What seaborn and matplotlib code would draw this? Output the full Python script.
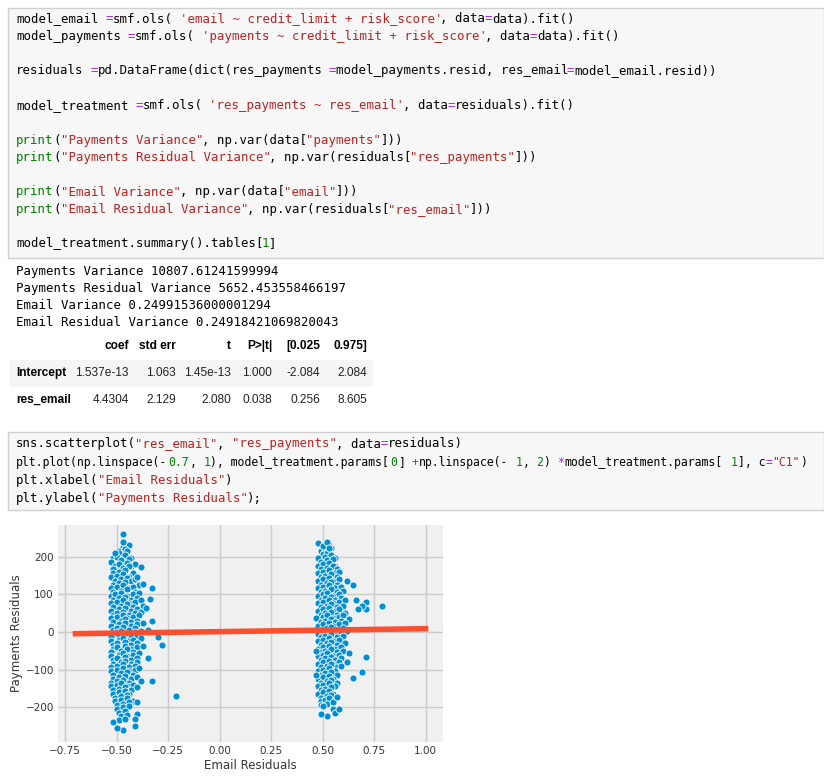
import re
import numpy as np
import pandas as pd
import matplotlib
matplotlib.use("Agg")
import matplotlib.pyplot as plt
from matplotlib.patches import Rectangle
import seaborn as sns

# ---- notebook text ----
cell1 = [
    "model_email = smf.ols('email ~ credit_limit + risk_score', data=data).fit()",
    "model_payments = smf.ols('payments ~ credit_limit + risk_score', data=data).fit()",
    "",
    "residuals = pd.DataFrame(dict(res_payments=model_payments.resid, res_email=model_email.resid))",
    "",
    "model_treatment = smf.ols('res_payments ~ res_email', data=residuals).fit()",
    "",
    "print(\"Payments Variance\", np.var(data[\"payments\"]))",
    "print(\"Payments Residual Variance\", np.var(residuals[\"res_payments\"]))",
    "",
    "print(\"Email Variance\", np.var(data[\"email\"]))",
    "print(\"Email Residual Variance\", np.var(residuals[\"res_email\"]))",
    "",
    "model_treatment.summary().tables[1]",
]
output1 = [
    "Payments Variance 10807.61241599994",
    "Payments Residual Variance 5652.453558466197",
    "Email Variance 0.24991536000001294",
    "Email Residual Variance 0.24918421069820043",
]
table_cols = ["coef", "std err", "t", "P>|t|", "[0.025", "0.975]"]
table_rows = ["Intercept", "res_email"]
table_vals = [
    ["1.537e-13", "1.063", "1.45e-13", "1.000", "-2.084", "2.084"],
    ["4.4304", "2.129", "2.080", "0.038", "0.256", "8.605"],
]
cell2 = [
    "sns.scatterplot(\"res_email\", \"res_payments\", data=residuals)",
    "plt.plot(np.linspace(-0.7, 1), model_treatment.params[0] + np.linspace(-1, 2) * model_treatment.params[1], c=\"C1\")",
    "plt.xlabel(\"Email Residuals\")",
    "plt.ylabel(\"Payments Residuals\");",
]

# ---- scatter data ----
left_row_y = [240, 230, 220, 210, 200, 190, 180, 170, 160, 150, 140, 130, 120, 110, 100, 90, 80, 70, 60, 50,
              40, 30, 20, 10, 0, -10, -20, -30, -40, -50, -60, -70, -80, -90, -100, -110, -120, -130, -140,
              -150, -160, -170, -180, -190, -200, -210, -220, -230]
left_row_x = [
    [-0.47], [-0.47, -0.44], [-0.49, -0.46], [-0.51, -0.49, -0.45], [-0.52, -0.50, -0.46, -0.43],
    [-0.53, -0.48, -0.44], [-0.51, -0.49, -0.45, -0.43, -0.41], [-0.52, -0.47, -0.44], [-0.52, -0.49, -0.46, -0.42],
    [-0.53, -0.50, -0.47, -0.44], [-0.51, -0.48, -0.45, -0.43, -0.41], [-0.52, -0.49, -0.46, -0.39],
    [-0.53, -0.50, -0.47, -0.44, -0.42], [-0.52, -0.48, -0.45, -0.41], [-0.53, -0.51, -0.48, -0.45, -0.42, -0.39],
    [-0.52, -0.49, -0.46, -0.43, -0.40], [-0.53, -0.50, -0.47, -0.44, -0.41, -0.38], [-0.52, -0.48, -0.45, -0.42, -0.37],
    [-0.53, -0.49, -0.46, -0.43, -0.40], [-0.52, -0.50, -0.47, -0.44, -0.41, -0.38],
    [-0.53, -0.50, -0.47, -0.45, -0.42, -0.39], [-0.52, -0.48, -0.46, -0.43, -0.40], [-0.53, -0.49, -0.46, -0.43, -0.40, -0.37],
    [-0.52, -0.50, -0.47, -0.44, -0.41], [-0.52, -0.50, -0.48, -0.45, -0.41, -0.38], [-0.53, -0.49, -0.46, -0.43, -0.40],
    [-0.53, -0.49, -0.47, -0.44, -0.42, -0.38], [-0.52, -0.50, -0.46, -0.43, -0.40], [-0.52, -0.50, -0.46, -0.43, -0.40, -0.37],
    [-0.53, -0.48, -0.45, -0.42], [-0.53, -0.49, -0.47, -0.45, -0.42, -0.39], [-0.52, -0.50, -0.46, -0.43, -0.40],
    [-0.52, -0.48, -0.46, -0.43, -0.40], [-0.53, -0.50, -0.47, -0.44, -0.41], [-0.53, -0.50, -0.47, -0.44, -0.41, -0.39],
    [-0.52, -0.48, -0.45, -0.42], [-0.52, -0.49, -0.46, -0.43, -0.40], [-0.53, -0.50, -0.47, -0.44], [-0.53, -0.50, -0.48, -0.45, -0.42],
    [-0.52, -0.49, -0.46, -0.43], [-0.52, -0.49, -0.46, -0.44], [-0.51, -0.48, -0.45], [-0.51, -0.48, -0.45, -0.42],
    [-0.50, -0.47, -0.44], [-0.50, -0.47, -0.44], [-0.49, -0.46], [-0.48, -0.45], [-0.49, -0.46],
]
left_out_x = [-0.21, -0.28, -0.30, -0.33, -0.33, -0.33, -0.35, -0.35, -0.34, -0.38, -0.36, -0.37, -0.40,
              -0.40, -0.41, -0.41, -0.40, -0.40, -0.38, -0.47, -0.50, -0.52, -0.47, -0.47, -0.51]
left_out_y = [-170, -35, -13, 30, 118, -130, -70, 5, 87, 173, 65, 128, 147,
              -218, -232, -250, -185, -145, -130, -260, -255, -238, 260, 240, 210]

right_row_y = [230, 220, 210, 200, 190, 180, 170, 160, 150, 140, 130, 120, 110, 100, 90, 80, 70, 60, 50,
               40, 30, 20, 10, 0, -10, -20, -30, -40, -50, -60, -70, -80, -90, -100, -110, -120, -130,
               -140, -150, -160, -170, -180, -190]
right_row_x = [
    [0.50, 0.53], [0.49, 0.51, 0.54], [0.50, 0.52], [0.48, 0.51, 0.54, 0.56], [0.49, 0.52, 0.55],
    [0.48, 0.50, 0.53, 0.56], [0.49, 0.52, 0.55, 0.57], [0.48, 0.50, 0.53, 0.56, 0.58], [0.49, 0.51, 0.54, 0.57],
    [0.48, 0.50, 0.53, 0.55, 0.58], [0.49, 0.52, 0.54, 0.57], [0.48, 0.50, 0.53, 0.56, 0.59],
    [0.49, 0.51, 0.54, 0.57, 0.60], [0.48, 0.50, 0.52, 0.55, 0.58], [0.49, 0.51, 0.54, 0.56, 0.59],
    [0.48, 0.50, 0.53, 0.55, 0.58, 0.61], [0.49, 0.52, 0.54, 0.57, 0.60], [0.48, 0.50, 0.53, 0.56, 0.58],
    [0.49, 0.51, 0.54, 0.57, 0.61], [0.47, 0.50, 0.52, 0.55, 0.58, 0.60], [0.49, 0.51, 0.54, 0.56, 0.59, 0.63],
    [0.48, 0.50, 0.53, 0.55, 0.58, 0.61], [0.49, 0.52, 0.54, 0.57, 0.60], [0.48, 0.50, 0.53, 0.56, 0.59, 0.62],
    [0.49, 0.51, 0.54, 0.57, 0.60], [0.48, 0.50, 0.53, 0.55, 0.58], [0.49, 0.52, 0.54, 0.57, 0.61],
    [0.48, 0.50, 0.53, 0.56, 0.59], [0.49, 0.51, 0.54, 0.57, 0.60], [0.48, 0.50, 0.52, 0.55, 0.58],
    [0.49, 0.51, 0.54, 0.56, 0.59], [0.48, 0.50, 0.53, 0.55, 0.58], [0.49, 0.52, 0.54, 0.57, 0.59],
    [0.48, 0.50, 0.53, 0.56], [0.49, 0.51, 0.54, 0.57], [0.48, 0.50, 0.53, 0.55], [0.49, 0.52, 0.54, 0.57],
    [0.48, 0.50, 0.53, 0.56], [0.49, 0.51, 0.54], [0.48, 0.50, 0.53, 0.55], [0.49, 0.52, 0.54], [0.49, 0.51, 0.53],
    [0.49, 0.52, 0.55],
]
right_out_x = [0.79, 0.71, 0.71, 0.71, 0.69, 0.69, 0.67, 0.66, 0.65, 0.65, 0.62, 0.62, 0.63, 0.57, 0.55,
               0.56, 0.58, 0.52, 0.49, 0.50, 0.48, 0.50, 0.52, 0.53, 0.47, 0.47]
right_out_y = [68, 81, 62, -65, -105, 70, 60, 86, -121, 125, 136, -80, -55, -173, -203,
               -215, -203, -222, -218, -195, 237, 229, 239, 223, -115, -50]

line_x_span = [-0.7, 1.0]
line_param_span = [-1, 2]
intercept, slope = 1.537e-13, 4.4304

xs, ys = [], []
for yv, row in zip(left_row_y + right_row_y, left_row_x + right_row_x):
    xs += row
    ys += [yv + 4 * ((i % 3) - 1) for i in range(len(row))]
xs += left_out_x + right_out_x
ys += left_out_y + right_out_y
residuals = pd.DataFrame({"res_email": xs, "res_payments": ys})

# ---- figure ----
W, H = 824, 777
fig = plt.figure(figsize=(W / 100, H / 100), dpi=100)
fig.patch.set_facecolor("white")


def fx(x):
    return x / W


def fy(y):
    return 1 - y / H


def box(y0, y1):
    fig.patches.append(Rectangle((fx(8), fy(y1)), fx(816), (y1 - y0) / H, transform=fig.transFigure,
                                 facecolor="#f7f7f7", edgecolor="#cfcfcf", lw=1, zorder=0))


MONO = "DejaVu Sans Mono"
FS = 8.9
tok = re.compile(r"(\"[^\"]*\"|'[^']*'|\bprint\b|\b\d+\.?\d*\b|[=+*]|[^\"'=+*\d]+?(?=\"|'|\bprint\b|\b\d|[=+*]|$))")


def code_line(s, x, y, fs=FS):
    char = fs * 0.602 * 100 / 72
    pos = 0
    for m in tok.finditer(s):
        t = m.group(0)
        if t[0] in "\"'":
            c = "#ba2121"
        elif t == "print" or t[0].isdigit():
            c = "#008000"
        elif t in "=+*":
            c = "#aa22ff"
        else:
            c = "#000000"
        if t.strip():
            fig.text(fx(x + pos * char), fy(y), t.strip(), family=MONO, fontsize=fs, color=c,
                     va="center", ha="left")
        pos += len(t) - len(t.lstrip())
        pos += len(t.lstrip())


box(8, 258)
for i, s in enumerate(cell1):
    code_line(s, 16, 19 + i * 17.3)
for i, s in enumerate(output1):
    fig.text(fx(16), fy(271 + i * 17.3), s, family=MONO, fontsize=FS, color="#000000", va="center")

# summary table
SANS = "Liberation Sans"
col_right = [129, 176, 231, 272, 320, 367]
fig.patches.append(Rectangle((fx(10), fy(387)), fx(363), 27 / H, transform=fig.transFigure,
                             facecolor="#f5f5f5", edgecolor="none", zorder=0))
for c, xr in zip(table_cols, col_right):
    fig.text(fx(xr), fy(346), c, family=SANS, fontsize=8.6, weight="bold", ha="right", va="center")
for r, (name, vals) in enumerate(zip(table_rows, table_vals)):
    yy = 373 + r * 27
    fig.text(fx(16), fy(yy), name, family=SANS, fontsize=8.6, weight="bold", ha="left", va="center")
    for v, xr in zip(vals, col_right):
        fig.text(fx(xr), fy(yy), v, family=SANS, fontsize=8.6, color="#222222", ha="right", va="center")

box(432, 510)
for i, s in enumerate(cell2):
    fs = FS if len(s) < 100 else 8.3
    code_line(s, 16, 444 + i * 18.3, fs)

# scatter plot
ax = fig.add_axes([fx(58), fy(741.7), fx(443 - 58), (741.7 - 525) / H])
ax.set_facecolor("#f0f0f0")
for sp in ax.spines.values():
    sp.set_visible(False)
ax.grid(True, color="#cbcbcb", lw=1)
ax.set_axisbelow(True)
sns.scatterplot(x="res_email", y="res_payments", data=residuals, ax=ax, color="#008fd5",
                edgecolor="white", linewidth=0.6, s=26, zorder=3)
ax.plot(np.linspace(*line_x_span), intercept + np.linspace(*line_param_span) * slope,
        c="#fc4f30", lw=4, zorder=4)
ax.set_xlim(-0.785, 1.085)
ax.set_ylim(-291, 284)
ax.set_xticks([-0.75, -0.5, -0.25, 0, 0.25, 0.5, 0.75, 1.0])
ax.set_xticklabels(["\u22120.75", "\u22120.50", "\u22120.25", "0.00", "0.25", "0.50", "0.75", "1.00"])
ax.set_yticks([-200, -100, 0, 100, 200])
ax.tick_params(labelsize=7.5, colors="#333333", length=0, pad=3)
ax.set_xlabel("Email Residuals", fontsize=8.5, color="#333333", labelpad=2)
ax.set_ylabel("Payments Residuals", fontsize=8.5, color="#333333", labelpad=2)

fig.savefig("out.png", dpi=100)
